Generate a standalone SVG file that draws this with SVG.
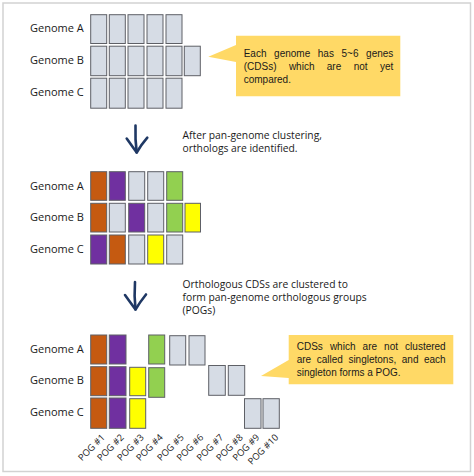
<svg xmlns="http://www.w3.org/2000/svg" width="474" height="476" viewBox="0 0 474 476">
<style>
.lbl{font-family:"Open Sans","Liberation Sans",sans-serif;font-size:11px;fill:#1a1a1a}
.note{font-family:"Open Sans","Liberation Sans",sans-serif;font-size:10.3px;fill:#1a1a1a}
.pog{font-family:"Open Sans","Liberation Sans",sans-serif;font-size:9.3px;fill:#1a1a1a}
.call{font-family:"Liberation Sans",Arial,sans-serif;font-size:10px;fill:#1a1a1a}
.g{fill:#d6dce5;stroke:#5e6066;stroke-width:1}
.o{fill:#c55a11;stroke:#5e6066;stroke-width:1}
.p{fill:#7030a0;stroke:#5e6066;stroke-width:1}
.gr{fill:#92d050;stroke:#5e6066;stroke-width:1}
.y{fill:#ffff00;stroke:#5e6066;stroke-width:1}
.bubble{fill:#ffd966}
.arr{fill:none;stroke:#1f3864;stroke-width:2.6;stroke-linecap:round;stroke-linejoin:round}
</style>
<rect x="3" y="3" width="467.5" height="468.5" fill="#ffffff" stroke="#d2d2d2" stroke-width="1.5"/>

<g id="stage1">
<text class="lbl" x="30" y="32.3">Genome A</text>
<text class="lbl" x="30" y="64">Genome B</text>
<text class="lbl" x="30" y="96">Genome C</text>
<rect class="g" x="90.7" y="14.7" width="16" height="28.8"/>
<rect class="g" x="109.3" y="14.7" width="16" height="28.8"/>
<rect class="g" x="128" y="14.7" width="16" height="28.8"/>
<rect class="g" x="147" y="14.7" width="16" height="28.8"/>
<rect class="g" x="166" y="14.7" width="16" height="28.8"/>
<rect class="g" x="90.7" y="46.2" width="16" height="29.5"/>
<rect class="g" x="109.3" y="46.2" width="16" height="29.5"/>
<rect class="g" x="128" y="46.2" width="16" height="29.5"/>
<rect class="g" x="147" y="46.2" width="16" height="29.5"/>
<rect class="g" x="166" y="46.2" width="16" height="29.5"/>
<rect class="g" x="184.3" y="46.2" width="16" height="29.5"/>
<rect class="g" x="90.7" y="78.2" width="16" height="30"/>
<rect class="g" x="109.3" y="78.2" width="16" height="30"/>
<rect class="g" x="128" y="78.2" width="16" height="30"/>
<rect class="g" x="147" y="78.2" width="16" height="30"/>
<rect class="g" x="166" y="78.2" width="16" height="30"/>
</g>

<g id="callout1">
<path class="bubble" d="M236,35.7 H400.3 V96.3 H236 V62 L208.3,56.7 L236,45 Z"/>
<text class="call" y="57"><tspan x="243.7">Each</tspan><tspan x="274.1">genome</tspan><tspan x="317.8">has</tspan><tspan x="341.5">5~6</tspan><tspan x="366.1">genes</tspan></text>
<text class="call" y="70"><tspan x="243.7">(CDSs)</tspan><tspan x="288.9">which</tspan><tspan x="326.8">are</tspan><tspan x="353.7">not</tspan><tspan x="380">yet</tspan></text>
<text class="call" x="243.7" y="83">compared.</text>
</g>

<g id="note1">
<text class="note" x="182.5" y="138.5">After pan-genome clustering,</text>
<text class="note" x="182.5" y="152">orthologs are identified.</text>
</g>

<g id="stage2">
<text class="lbl" x="30" y="189.5">Genome A</text>
<text class="lbl" x="30" y="221">Genome B</text>
<text class="lbl" x="30" y="253">Genome C</text>
<rect class="o" x="90.7" y="171.7" width="16" height="28.6"/>
<rect class="p" x="109.3" y="171.7" width="16" height="28.6"/>
<rect class="g" x="128.7" y="171.7" width="16" height="28.6"/>
<rect class="g" x="147.7" y="171.7" width="16" height="28.6"/>
<rect class="gr" x="166.7" y="171.7" width="16" height="28.6"/>
<rect class="o" x="90.7" y="203.3" width="16" height="28.7"/>
<rect class="g" x="109.3" y="203.3" width="16" height="28.7"/>
<rect class="p" x="128.7" y="203.3" width="16" height="28.7"/>
<rect class="g" x="147.7" y="203.3" width="16" height="28.7"/>
<rect class="gr" x="166.7" y="203.3" width="16" height="28.7"/>
<rect class="y" x="185" y="203.3" width="15.5" height="28.7"/>
<rect class="p" x="90.7" y="235" width="16" height="29"/>
<rect class="o" x="109.3" y="235" width="16" height="29"/>
<rect class="g" x="128.7" y="235" width="16" height="29"/>
<rect class="y" x="147.7" y="235" width="16" height="29"/>
<rect class="g" x="166.7" y="235" width="16" height="29"/>
</g>

<g id="note2">
<text class="note" x="182.5" y="288">Orthologous CDSs are clustered to</text>
<text class="note" x="182.5" y="301">form pan-genome orthologous groups</text>
<text class="note" x="182.5" y="314">(POGs)</text>
</g>

<g id="stage3">
<text class="lbl" x="30" y="352.5">Genome A</text>
<text class="lbl" x="30" y="384">Genome B</text>
<text class="lbl" x="30" y="415.5">Genome C</text>
<rect class="o" x="90.7" y="335" width="16" height="29"/>
<rect class="o" x="90.7" y="366.7" width="16" height="29"/>
<rect class="o" x="90.7" y="398" width="16" height="30.3"/>
<rect class="p" x="109.3" y="335" width="16.7" height="29"/>
<rect class="p" x="109.3" y="366.7" width="16.7" height="29"/>
<rect class="p" x="109.3" y="398" width="16.7" height="30.3"/>
<rect class="y" x="129.7" y="367.3" width="16" height="28.4"/>
<rect class="y" x="129.7" y="398.7" width="16" height="29.6"/>
<rect class="gr" x="148.7" y="335" width="16" height="29"/>
<rect class="gr" x="148.7" y="367.7" width="16" height="29.6"/>
<rect class="g" x="169.7" y="335.7" width="16" height="29.3"/>
<rect class="g" x="189" y="335.7" width="16" height="29.3"/>
<rect class="g" x="208.7" y="365.5" width="16.6" height="29.8"/>
<rect class="g" x="228.3" y="365.5" width="16.4" height="29.8"/>
<rect class="g" x="244.5" y="398.7" width="16.5" height="29.6"/>
<rect class="g" x="263" y="398.7" width="16.3" height="29.6"/>
<g class="pog" text-anchor="end">
<text transform="translate(105.5,438) rotate(-45)">POG #1</text>
<text transform="translate(124.5,438) rotate(-45)">POG #2</text>
<text transform="translate(144.5,438) rotate(-45)">POG #3</text>
<text transform="translate(163.5,438) rotate(-45)">POG #4</text>
<text transform="translate(184.5,438) rotate(-45)">POG #5</text>
<text transform="translate(204,438) rotate(-45)">POG #6</text>
<text transform="translate(224,438) rotate(-45)">POG #7</text>
<text transform="translate(243.5,438) rotate(-45)">POG #8</text>
<text transform="translate(260,438) rotate(-45)">POG #9</text>
<text transform="translate(279,438) rotate(-45)">POG #10</text>
</g>
</g>

<g id="callout2">
<path class="bubble" d="M288.7,335 H453.3 V384.3 H288.7 V378 L261,376 L288.7,360 Z"/>
<text class="call" y="349.5"><tspan x="296.7">CDSs</tspan><tspan x="329.9">which</tspan><tspan x="362.6">are</tspan><tspan x="384.1">not</tspan><tspan x="405.1">clustered</tspan></text>
<text class="call" y="362.8"><tspan x="296.7">are</tspan><tspan x="316.7">called</tspan><tspan x="348.4">singletons,</tspan><tspan x="401.8">and</tspan><tspan x="424">each</tspan></text>
<text class="call" x="296.7" y="376">singleton forms a POG.</text>
</g>

<g id="connectors">
<path class="arr" d="M135.5,125.5 Q135,140 136.7,152.5"/>
<path class="arr" d="M126.7,138.5 Q132,146 136.7,152.5 Q141,145 147.3,137.7"/>
<path class="arr" d="M135,282 Q134,296 135.5,309.5"/>
<path class="arr" d="M125,295 Q130,302 135.5,309.5 Q140,302 146,294.5"/>
</g>
</svg>
